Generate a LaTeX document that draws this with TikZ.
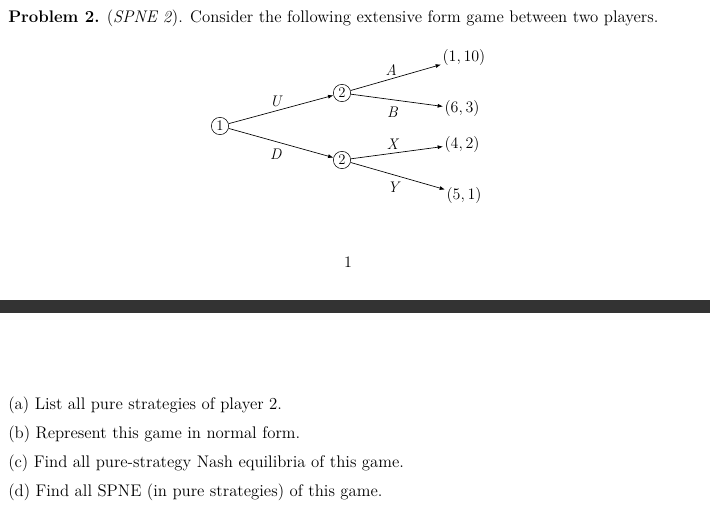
\documentclass[tikz,border=0pt]{standalone}
\usetikzlibrary{arrows.meta}
\begin{document}
\begin{tikzpicture}[x=0.75pt,y=-0.75pt,
  pl/.style={circle,draw,inner sep=0.6pt,minimum size=13pt,font=\fontsize{11}{13}\selectfont},
  pay/.style={inner sep=1pt,font=\fontsize{12}{14}\selectfont},
  edge/.style={-{Latex[length=4pt,width=3pt]},line width=0.5pt},
  lab/.style={font=\fontsize{11.5}{13}\selectfont\itshape,inner sep=2.5pt},
  txt/.style={anchor=west,inner sep=0pt,font=\fontsize{12.6}{15}\selectfont}]
\useasboundingbox (0,0) rectangle (710,510);
\node[txt] (title) at (8,18) {\textbf{Problem 2.} (\textit{SPNE 2}). Consider the following extensive form game between two players.};
\node[pl] (n1) at (220,126) {1};
\node[pl] (n2a) at (342,93) {2};
\node[pl] (n2b) at (342,160) {2};
\node[pay,anchor=west] (p1) at (441,58) {$(1,10)$};
\node[pay,anchor=west] (p2) at (443,109) {$(6,3)$};
\node[pay,anchor=west] (p3) at (443,144) {$(4,2)$};
\node[pay,anchor=west] (p4) at (445,195) {$(5,1)$};
\draw[edge] (n1) -- node[lab,above,pos=0.45] {U} (n2a);
\draw[edge] (n1) -- node[lab,below=3pt,pos=0.45] {D} (n2b);
\draw[edge] (n2a) -- node[lab,above,pos=0.45] {A} (p1);
\draw[edge] (n2a) -- node[lab,below=3pt,pos=0.45] {B} (p2);
\draw[edge] (n2b) -- node[lab,above,pos=0.45] {X} (p3);
\draw[edge] (n2b) -- node[lab,below=3pt,pos=0.45] {Y} (p4);
\node[pay] (pg) at (348,262) {1};
\fill[fill={rgb,255:red,51;green,51;blue,51}] (0,300) rectangle (710,313);
\node[txt] (qa) at (8,405) {(a) List all pure strategies of player 2.};
\node[txt] (qb) at (8,434) {(b) Represent this game in normal form.};
\node[txt] (qc) at (8,463) {(c) Find all pure-strategy Nash equilibria of this game.};
\node[txt] (qd) at (8,492) {(d) Find all SPNE (in pure strategies) of this game.};
\end{tikzpicture}
\end{document}
